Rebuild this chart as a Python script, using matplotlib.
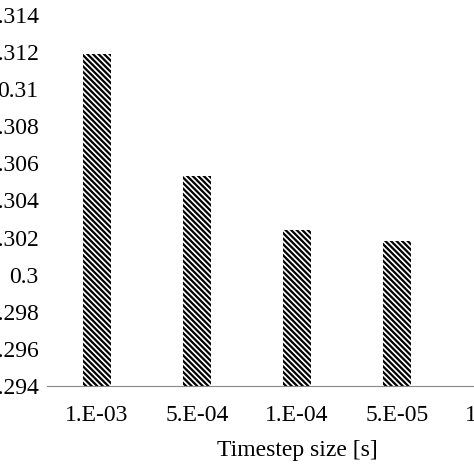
import matplotlib
matplotlib.use("Agg")
import matplotlib.pyplot as plt

categories = ["1.E-03", "5.E-04", "1.E-04", "5.E-05", "1.E-05"]
values = [0.3119, 0.3053, 0.3024, 0.3018, None]
yticks = [0.294, 0.296, 0.298, 0.3, 0.302, 0.304, 0.306, 0.308, 0.31, 0.312, 0.314]
ytick_labels = ["0.294", "0.296", "0.298", "0.3", "0.302", "0.304", "0.306", "0.308", "0.31", "0.312", "0.314"]

plt.rcParams['font.family'] = ['Liberation Serif', 'DejaVu Serif']
plt.rcParams['hatch.linewidth'] = 1.6
fig = plt.figure(figsize=(4.74, 4.74), dpi=100)
ax = fig.add_axes([47/474, 1 - 386/474, 500/474, 371/474])
xs = [i for i, v in enumerate(values) if v is not None]
vs = [v for v in values if v is not None]
ax.bar(xs, [v - 0.294 for v in vs], bottom=0.294, width=0.28, color="white",
       edgecolor="black", linewidth=0, hatch="\\\\\\\\\\\\")
ax.set_xlim(-0.5, 4.5)
ax.set_ylim(0.294, 0.314)
ax.set_xticks(range(len(categories)))
ax.set_xticklabels(categories, fontsize=17)
ax.set_yticks(yticks)
ax.set_yticklabels(ytick_labels, fontsize=17)
for s in ["top", "right", "left"]:
    ax.spines[s].set_visible(False)
ax.spines["bottom"].set_color("#888888")
ax.tick_params(length=0, pad=6)
ax.tick_params(axis="x", pad=14)
ax.set_xlabel("Timestep size [s]", fontsize=17, labelpad=10)
fig.savefig("out.png", dpi=100)
